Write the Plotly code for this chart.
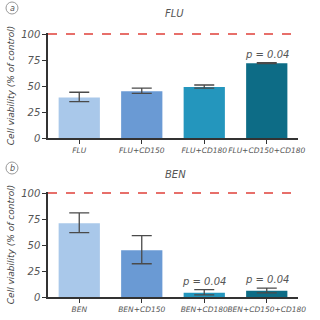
import plotly.graph_objects as go

cats_a = ["FLU", "FLU+CD150", "FLU+CD180", "FLU+CD150+CD180"]
vals_a = [39, 45, 49, 72]
err_hi_a = [5, 3, 2, 0.5]
err_lo_a = [4, 2, 1, 0.5]

cats_b = ["BEN", "BEN+CD150", "BEN+CD180", "BEN+CD150+CD180"]
vals_b = [71, 45, 4, 6]
err_hi_b = [10, 14, 3, 2.5]
err_lo_b = [9, 13, 2, 2]

colors = ["#a9c8ea", "#6a9ad4", "#2496bd", "#0d6c86"]
pvals_a = ["", "", "", "p = 0.04"]
pvals_b = ["", "", "p = 0.04", "p = 0.04"]
yticks = [0, 25, 50, 75, 100]

W = H = 320
def px(x): return x / W
def py(y): return 1 - y / H

font_fam = "DejaVu Sans"
gray = "#555555"

fig = go.Figure()
for i, (cats, vals, eh, el) in enumerate([(cats_a, vals_a, err_hi_a, err_lo_a),
                                           (cats_b, vals_b, err_hi_b, err_lo_b)]):
    fig.add_trace(go.Bar(
        x=cats, y=vals, marker_color=colors, marker_line_width=0, width=0.66,
        error_y=dict(type="data", symmetric=False, array=eh, arrayminus=el,
                     color="#4a4a4a", thickness=1.3, width=10),
        xaxis="x" if i == 0 else "x2", yaxis="y" if i == 0 else "y2",
        showlegend=False))

axis_common = dict(showline=True, linecolor="#333333", linewidth=1.5, ticks="outside",
                   ticklen=4, tickcolor="#333333", showgrid=False, zeroline=False,
                   automargin=False)
xaxis_common = dict(axis_common, tickangle=0,
                    tickfont=dict(family=font_fam, size=7.5, color=gray, style="italic"))
yaxis_common = dict(axis_common, range=[0, 101], tickvals=yticks,
                    tickfont=dict(family=font_fam, size=10, color=gray, style="italic"),
                    title=dict(text="Cell viability (% of control)", standoff=5,
                               font=dict(family=font_fam, size=9, color="#444444", style="italic")))

fig.update_layout(
    width=W, height=H, margin=dict(l=0, r=0, t=0, b=0),
    plot_bgcolor="white", paper_bgcolor="white",
    xaxis=dict(xaxis_common, domain=[px(48), px(298)], anchor="y"),
    yaxis=dict(yaxis_common, domain=[py(138), py(33)], anchor="x"),
    xaxis2=dict(xaxis_common, domain=[px(48), px(298)], anchor="y2"),
    yaxis2=dict(yaxis_common, domain=[py(297), py(192)], anchor="x2"),
)

for i, (cats, vals, eh, pv, xa, ya, title, lab, ytop) in enumerate([
        (cats_a, vals_a, err_hi_a, pvals_a, "x", "y", "FLU", "a", 8),
        (cats_b, vals_b, err_hi_b, pvals_b, "x2", "y2", "BEN", "b", 168)]):
    fig.add_shape(type="line", xref=f"{xa} domain", yref=ya, x0=0, x1=1, y0=100, y1=100,
                  line=dict(color="#e0403a", width=1.5, dash="dash"))
    for c, v, e, p in zip(cats, vals, eh, pv):
        if p:
            fig.add_annotation(x=c, y=v + e, xref=xa, yref=ya, text=f"<i>{p}</i>",
                               showarrow=False, yanchor="bottom", yshift=1,
                               font=dict(family=font_fam, size=10, color=gray))
    fig.add_annotation(x=px(163), y=py(ytop + 6), xref="paper", yref="paper",
                       text=f"<i>{title}</i>", showarrow=False, xanchor="left", yanchor="middle",
                       font=dict(family=font_fam, size=10, color=gray))
    fig.add_shape(type="circle", xref="paper", yref="paper",
                  x0=px(6), x1=px(18), y0=py(ytop + 6), y1=py(ytop - 6),
                  line=dict(color="#999999", width=1))
    fig.add_annotation(x=px(12), y=py(ytop), xref="paper", yref="paper",
                       text=f"<i>{lab}</i>", showarrow=False, xanchor="center", yanchor="middle",
                       font=dict(family=font_fam, size=8, color=gray))

fig.write_html("out.html")
